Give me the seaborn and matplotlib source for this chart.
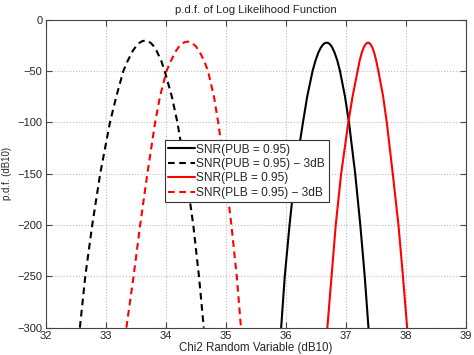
import pandas as pd
import matplotlib
matplotlib.use("Agg")
import matplotlib.pyplot as plt
import seaborn as sns

# Curve points (x in dB10, y in dB10)
pub_x = [35.92, 35.98, 36.06, 36.15, 36.284, 36.354, 36.444, 36.492, 36.541, 36.585, 36.616, 36.648,
         36.68,
         36.71, 36.739, 36.769, 36.809, 36.856, 36.90, 36.984, 37.05, 37.154, 37.239, 37.313, 37.375]
pub_y = [-300, -250, -200, -150, -100, -75, -50, -40, -32, -27, -24.5, -23,
         -22.5,
         -23, -24.5, -27, -32, -40, -50, -75, -100, -150, -200, -250, -300]

pub3_x = [32.565, 32.655, 32.771, 32.904, 33.067, 33.172, 33.29, 33.364, 33.452, 33.515, 33.562, 33.608,
          33.655,
          33.697, 33.740, 33.782, 33.840, 33.920, 33.978, 34.098, 34.19, 34.335, 34.455, 34.55, 34.63]
pub3_y = [-300, -250, -200, -150, -100, -75, -50, -40, -30, -25, -22.5, -21,
          -20.5,
          -21, -22.5, -25, -30, -40, -50, -75, -100, -150, -200, -250, -300]

plb_x = [36.69, 36.76, 36.83, 36.92, 37.04, 37.11, 37.195, 37.228, 37.265, 37.298, 37.322, 37.346,
         37.37,
         37.393, 37.415, 37.438, 37.469, 37.504, 37.54, 37.62, 37.68, 37.78, 37.875, 37.95, 38.02]
plb_y = [-300, -250, -200, -150, -100, -75, -50, -40, -32, -27, -24.5, -23,
         -22.5,
         -23, -24.5, -27, -32, -40, -50, -75, -100, -150, -200, -250, -300]

plb3_x = [33.34, 33.46, 33.57, 33.69, 33.82, 33.90, 34.01, 34.085, 34.162, 34.222, 34.268, 34.314,
          34.36,
          34.405, 34.45, 34.496, 34.557, 34.635, 34.70, 34.80, 34.87, 34.99, 35.09, 35.18, 35.25]
plb3_y = [-300, -250, -200, -150, -100, -75, -50, -40, -31, -26, -23.5, -22,
          -21.5,
          -22, -23.5, -26, -31, -40, -50, -75, -100, -150, -200, -250, -300]

labels = ['SNR(PUB = 0.95)', 'SNR(PUB = 0.95) \u2212 3dB',
          'SNR(PLB = 0.95)', 'SNR(PLB = 0.95) \u2212 3dB']
xs = [pub_x, pub3_x, plb_x, plb3_x]
ys = [pub_y, pub3_y, plb_y, plb3_y]
colors = ['black', 'black', 'red', 'red']
dashed = [False, True, False, True]

sns.set_style("ticks")
plt.rcParams['font.family'] = ['Liberation Sans', 'DejaVu Sans']

fig = plt.figure(figsize=(4.74, 3.55), dpi=100)
ax = fig.add_axes([0.097, 0.077, 0.886, 0.868])

for x, y, lab, c, d in zip(xs, ys, labels, colors, dashed):
    df = pd.DataFrame({'x': x, 'y': y})
    sns.lineplot(data=df, x='x', y='y', ax=ax, color=c, label=lab,
                 sort=False, linewidth=1.5)
    if d:
        ax.lines[-1].set_dashes((3.2, 2.2))

ax.set_xlim(32, 39)
ax.set_ylim(-300, 0)
ax.set_xticks(range(32, 40))
ax.set_yticks(range(-300, 1, 50))
ax.set_yticklabels([str(v).replace('-', '\u2212') for v in range(-300, 1, 50)])
ax.grid(True, linestyle=':', color='#bdbdbd', linewidth=0.8)
ax.tick_params(direction='in', top=True, right=True, labelsize=8, length=4,
               color='#444444', pad=2.5)
for s in ax.spines.values():
    s.set_color('#444444')
    s.set_linewidth(0.8)

ax.set_title('p.d.f. of Log Likelihood Function', fontsize=8.2, pad=5)
ax.set_xlabel('Chi2 Random Variable (dB10)', fontsize=8.3, labelpad=0.5)
ax.set_ylabel('p.d.f. (dB10)', fontsize=7, labelpad=4)

leg = ax.legend(loc='upper left', bbox_to_anchor=(0.283, 0.609), fontsize=8.6,
                frameon=True, fancybox=False, edgecolor='#333333', framealpha=1,
                borderpad=0.3, labelspacing=0.2, handlelength=2.2,
                handletextpad=0.15, borderaxespad=0)
leg.get_frame().set_linewidth(0.8)

plt.savefig('out.png', dpi=100)
